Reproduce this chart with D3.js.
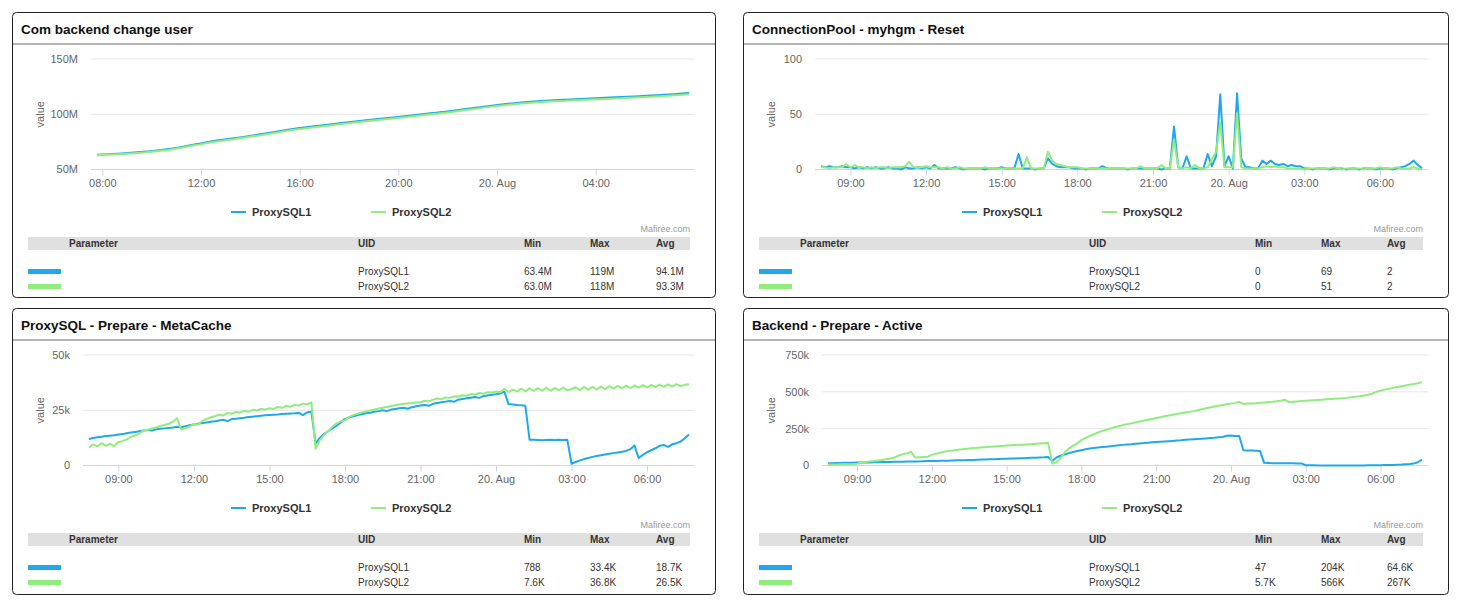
<!DOCTYPE html>
<html>
<head>
<meta charset="utf-8">
<script src="https://cdn.jsdelivr.net/npm/d3@7"></script>
<style>
  body { margin: 0; background: #fff; }
  text { font-family: "Liberation Sans", Arial, sans-serif; }
</style>
</head>
<body>
<div id="vis"></div>
<script>
// Setting up frame constants
const FRAME_WIDTH = 1462;
const FRAME_HEIGHT = 601;

const SERIES_NAMES = ["ProxySQL1", "ProxySQL2"];
const SERIES_COLORS = ["#1fa8ee", "#90ed7d"];
const TABLE_HEADERS = ["Parameter", "UID", "Min", "Max", "Avg"];

// x axis ticks
const X_TICKS_4H = ["2019-08-19T08:00", "2019-08-19T12:00", "2019-08-19T16:00",
                    "2019-08-19T20:00", "2019-08-20T00:00", "2019-08-20T04:00"];
const X_LABELS_4H = ["08:00", "12:00", "16:00", "20:00", "20. Aug", "04:00"];
const X_TICKS_3H = ["2019-08-19T09:00", "2019-08-19T12:00", "2019-08-19T15:00",
                    "2019-08-19T18:00", "2019-08-19T21:00", "2019-08-20T00:00",
                    "2019-08-20T03:00", "2019-08-20T06:00"];
const X_LABELS_3H = ["09:00", "12:00", "15:00", "18:00", "21:00", "20. Aug", "03:00", "06:00"];

// Com backend change user (millions), one point per hour from 07:47
const P1_START = "2019-08-19T07:47";
const P1_STEP_MIN = 60;
const P1_PROXY1 = [63.4, 64.5, 66.3, 68.8, 72.8, 76.6, 79.7, 83.2, 86.8, 89.6, 92.3, 94.8,
                   97.0, 99.6, 102.0, 104.9, 107.8, 110.2, 111.9, 113.2, 114.3, 115.3, 116.4,
                   117.6, 119.3];
const P1_PROXY2 = [63.0, 64.0, 65.7, 68.2, 72.1, 75.8, 78.9, 82.4, 85.9, 88.7, 91.4, 93.9,
                   96.1, 98.7, 101.1, 104.0, 106.9, 109.3, 111.0, 112.2, 113.3, 114.3, 115.4,
                   116.6, 118.2];
const P1_Y_TICKS = [50, 100, 150];
const P1_Y_LABELS = ["50M", "100M", "150M"];
const P1_STATS = [["63.4M", "119M", "94.1M"], ["63.0M", "118M", "93.3M"]];

// the other three charts: one point every 10 minutes from 07:50
const P_START = "2019-08-19T07:50";
const P_STEP_MIN = 10;

// ConnectionPool - myhgm - Reset
const P2_PROXY1 = [
  3, 2, 3, 2, 2, 3,   2, 2, 1, 2, 1, 2,   1, 2, 1, 1, 2, 1,   1, 0, 2, 1, 1, 2,
  1, 2, 1, 4, 1, 1,   1, 1, 2, 1, 0, 1,   1, 1, 1, 0, 1, 1,   1, 2, 1, 1, 1, 14,
  1, 1, 1, 0, 1, 1,   10, 5, 3, 2, 2, 2,  1, 1, 1, 0, 1, 1,   1, 3, 1, 1, 1, 1,
  1, 0, 1, 1, 1, 1,   1, 1, 1, 0, 1, 1,   39, 2, 1, 12, 1, 1, 1, 1, 14, 3, 12, 68,
  3, 12, 1, 69, 10, 2, 2, 1, 1, 8, 5, 8, 5, 4, 5, 3, 4, 3,   3, 1, 1, 0, 1, 1,
  1, 0, 1, 1, 1, 0,   1, 1, 0, 1, 1, 1,   0, 1, 1, 1, 0, 1,   2, 3, 5, 8, 4, 1];
const P2_PROXY2 = [
  2, 2, 1, 2, 2, 2,   5, 2, 4, 2, 2, 1,   2, 1, 2, 2, 1, 2,   2, 2, 3, 7, 2, 2,
  2, 3, 2, 2, 2, 1,   2, 1, 1, 2, 1, 1,   1, 1, 1, 2, 1, 1,   1, 1, 1, 1, 1, 1,
  1, 11, 1, 1, 1, 1,  16, 8, 5, 4, 3, 2,  2, 2, 1, 1, 1, 1,   1, 1, 1, 1, 1, 1,
  1, 1, 1, 1, 3, 1,   1, 1, 1, 4, 1, 1,   27, 2, 1, 2, 1, 4,  1, 1, 2, 9, 16, 43,
  2, 2, 2, 51, 2, 1,  1, 1, 1, 2, 3, 2,   3, 2, 2, 1, 1, 1,   1, 0, 1, 1, 1, 1,
  1, 1, 2, 1, 0, 1,   1, 1, 1, 0, 1, 1,   1, 2, 1, 1, 1, 2,   1, 1, 1, 2, 1, 0];
const P2_Y_TICKS = [0, 50, 100];
const P2_Y_LABELS = ["0", "50", "100"];
const P2_STATS = [["0", "69", "2"], ["0", "51", "2"]];

// ProxySQL - Prepare - MetaCache (thousands)
const P3_PROXY1 = [
  12.0, 12.4, 12.8, 13.0, 13.3, 13.5,  13.7, 14.0, 14.2, 14.6, 14.9, 15.2,
  15.5, 15.8, 16.1, 15.8, 16.4, 16.6,  16.8, 17.0, 17.2, 17.5, 17.3, 17.8,
  18.2, 18.6, 18.9, 19.2, 19.5, 19.8,  20.0, 20.4, 20.7, 20.1, 21.0, 21.2,
  21.4, 21.6, 21.9, 22.1, 22.3, 22.5,  22.7, 22.9, 23.0, 23.1, 23.3, 23.4,
  23.5, 23.6, 23.8, 22.8, 24.0, 24.4,  9.9, 12.5, 14.2, 15.5, 16.8, 18.0,
  19.5, 21.0, 21.8, 22.3, 22.8, 23.2,  23.6, 23.9, 24.3, 24.6, 25.0, 24.6,
  25.3, 25.6, 25.9, 26.1, 25.7, 26.4,  26.8, 27.1, 27.4, 27.0, 27.9, 28.3,
  28.6, 28.9, 29.2, 28.8, 29.8, 30.1,  30.4, 30.7, 31.0, 30.6, 31.4, 31.7,
  32.0, 32.2, 32.6, 33.4, 27.8, 27.6,  27.4, 27.3, 27.0, 11.7, 11.6, 11.5,
  11.4, 11.5, 11.6, 11.5, 11.6, 11.5,  11.6, 0.8, 1.6, 2.3, 2.9, 3.4,
  3.9, 4.3, 4.6, 5.0, 5.3, 5.6,        5.9, 6.2, 6.6, 7.4, 9.1, 3.4,
  4.8, 6.0, 6.9, 7.8, 8.9, 9.3,        8.4, 9.6, 10.1, 10.8, 12.3, 14.0];
const P3_PROXY2 = [
  8.1, 9.6, 8.7, 10.1, 8.9, 9.8,       8.8, 10.6, 11.0, 11.8, 12.9, 13.6,
  14.5, 15.9, 16.2, 16.8, 17.2, 17.9,  18.3, 18.9, 19.8, 21.4, 16.2, 17.0,
  17.6, 18.9, 18.4, 20.2, 21.0, 21.8,  22.3, 23.0, 22.6, 23.8, 23.4, 24.2,
  24.0, 24.8, 24.3, 25.2, 24.9, 25.6,  25.3, 25.9, 25.6, 26.5, 26.1, 27.0,
  26.6, 27.4, 27.1, 28.0, 27.7, 28.6,  7.6, 11.4, 13.8, 15.5, 17.5, 19.0,
  20.0, 20.4, 22.0, 22.8, 23.4, 24.0,  24.4, 24.9, 25.3, 25.8, 26.1, 26.5,
  26.9, 27.3, 27.6, 27.9, 28.1, 28.3,  28.5, 28.6, 29.3, 29.0, 29.8, 30.3,
  30.0, 30.8, 30.6, 31.3, 31.1, 31.8,  31.6, 32.3, 32.1, 32.8, 32.5, 33.2,
  33.0, 33.5, 33.1, 34.6, 33.2, 34.3,  33.4, 34.8, 33.6, 34.9, 33.8, 35.0,
  33.9, 35.2, 33.8, 35.1, 34.0, 35.3,  34.0, 34.6, 35.4, 34.1, 35.5, 34.3,
  35.6, 34.4, 35.7, 34.6, 35.9, 34.8,  36.0, 34.9, 36.1, 35.0, 36.2, 35.2,
  36.4, 35.3, 36.5, 35.5, 36.6, 35.6,  36.7, 35.7, 36.8, 35.9, 36.5, 36.8];
const P3_Y_TICKS = [0, 25, 50];
const P3_Y_LABELS = ["0", "25k", "50k"];
const P3_STATS = [["788", "33.4K", "18.7K"], ["7.6K", "36.8K", "26.5K"]];

// Backend - Prepare - Active (thousands)
const P4_PROXY1 = [
  15, 16, 17, 17, 18, 19,        19, 20, 20, 21, 21, 22,
  22, 23, 24, 24, 25, 26,        26, 27, 27, 28, 28, 29,
  30, 31, 31, 32, 33, 33,        34, 35, 35, 36, 37, 38,
  39, 40, 41, 42, 43, 44,        45, 46, 47, 48, 49, 50,
  51, 52, 53, 55, 56, 58,        31, 54, 66, 75, 84, 91,
  98, 104, 110, 115, 119, 122,   125, 128, 131, 134, 137, 140,
  143, 145, 148, 150, 152, 155,  157, 159, 161, 163, 165, 167,
  169, 171, 174, 176, 178, 180,  182, 184, 186, 188, 191, 193,
  202, 204, 200, 200, 103, 102,  101, 100, 99, 18, 17, 16,
  16, 16, 15, 15, 15, 14,        14, 2, 1, 1, 0.5, 0.5,
  0.3, 0.2, 0.1, 0.05, 0.047, 0.1, 0.2, 0.3, 0.5, 0.8, 1, 1.5,
  2, 2.5, 3, 3.5, 4, 5,          6, 8, 10, 13, 22, 40];
const P4_PROXY2 = [
  6, 7, 7, 8, 8, 9,              9, 12, 18, 23, 27, 30,
  34, 38, 43, 48, 54, 68,        76, 83, 92, 54, 56, 58,
  60, 72, 80, 87, 93, 98,        102, 106, 109, 112, 115, 118,
  121, 123, 125, 127, 129, 131,  133, 135, 137, 139, 140, 141,
  143, 145, 147, 149, 151, 152,  13, 22, 50, 90, 115, 135,
  150, 172, 188, 200, 212, 224,  234, 243, 252, 260, 267, 274,
  280, 286, 292, 298, 304, 310,  316, 322, 328, 334, 339, 344,
  349, 354, 359, 364, 369, 375,  382, 388, 394, 400, 405, 410,
  415, 420, 425, 432, 418, 420,  421, 423, 426, 428, 431, 433,
  436, 440, 446, 431, 433, 435,  437, 439, 441, 443, 445, 447,
  449, 451, 453, 455, 457, 459,  463, 466, 470, 475, 480, 488,
  500, 508, 515, 521, 527, 533,  538, 543, 548, 553, 558, 566];
const P4_Y_TICKS = [0, 250, 500, 750];
const P4_Y_LABELS = ["0", "250k", "500k", "750k"];
const P4_STATS = [["47", "204K", "64.6K"], ["5.7K", "566K", "267K"]];

// Layout inside a panel
const PLOT_TOP = 47;
const PLOT_BOTTOM = 157.5;
const COL_X = [57, 346, 512, 578, 644];

const PARSE = d3.timeParse("%Y-%m-%dT%H:%M");

function make_times(start, step, n) {
  const T0 = PARSE(start);
  return d3.range(n).map(i => d3.timeMinute.offset(T0, i * step));
}

const PANELS = [
  {x: 12, y: 12, w: 703, h: 285, left: 79, title: "Com backend change user",
   times: make_times(P1_START, P1_STEP_MIN, P1_PROXY1.length), series: [P1_PROXY1, P1_PROXY2],
   yTicks: P1_Y_TICKS, yLabels: P1_Y_LABELS, xTicks: X_TICKS_4H, xLabels: X_LABELS_4H,
   stats: P1_STATS, smooth: true},
  {x: 743, y: 12, w: 705, h: 285, left: 72, title: "ConnectionPool - myhgm - Reset",
   times: make_times(P_START, P_STEP_MIN, P2_PROXY1.length), series: [P2_PROXY1, P2_PROXY2],
   yTicks: P2_Y_TICKS, yLabels: P2_Y_LABELS, xTicks: X_TICKS_3H, xLabels: X_LABELS_3H,
   stats: P2_STATS},
  {x: 12, y: 308, w: 703, h: 286, left: 71, title: "ProxySQL - Prepare - MetaCache",
   times: make_times(P_START, P_STEP_MIN, P3_PROXY1.length), series: [P3_PROXY1, P3_PROXY2],
   yTicks: P3_Y_TICKS, yLabels: P3_Y_LABELS, xTicks: X_TICKS_3H, xLabels: X_LABELS_3H,
   stats: P3_STATS},
  {x: 743, y: 308, w: 705, h: 286, left: 79, title: "Backend - Prepare - Active",
   times: make_times(P_START, P_STEP_MIN, P4_PROXY1.length), series: [P4_PROXY1, P4_PROXY2],
   yTicks: P4_Y_TICKS, yLabels: P4_Y_LABELS, xTicks: X_TICKS_3H, xLabels: X_LABELS_3H,
   stats: P4_STATS}
];

const FRAME = d3.select("#vis")
                .append("svg")
                  .attr("width", FRAME_WIDTH)
                  .attr("height", FRAME_HEIGHT);

function build_panel(p) {
  const G = FRAME.append("g").attr("transform", "translate(" + p.x + "," + p.y + ")");
  const PLOT_RIGHT = p.w - 20;

  // frame + header
  G.append("rect")
      .attr("x", 0.5).attr("y", 0.5)
      .attr("width", p.w).attr("height", p.h)
      .attr("rx", 4)
      .attr("fill", "#fff")
      .attr("stroke", "#222");
  G.append("line")
      .attr("x1", 1).attr("x2", p.w)
      .attr("y1", 32).attr("y2", 32)
      .attr("stroke", "#b4b4b4")
      .attr("stroke-width", 2);
  G.append("text")
      .attr("x", 9).attr("y", 22)
      .attr("font-size", "13.5px")
      .attr("font-weight", "bold")
      .attr("fill", "#111")
      .text(p.title);

  const X_SCALE = d3.scaleTime()
                    .domain(d3.extent(p.times))
                    .range([p.left + 6, PLOT_RIGHT - 6]);
  const Y_SCALE = d3.scaleLinear()
                    .domain(d3.extent(p.yTicks))
                    .range([PLOT_BOTTOM, PLOT_TOP]);

  // grid lines and y labels
  G.selectAll(".grid")
      .data(p.yTicks)
      .enter().append("line")
        .attr("x1", p.left).attr("x2", PLOT_RIGHT)
        .attr("y1", d => Y_SCALE(d)).attr("y2", d => Y_SCALE(d))
        .attr("stroke", "#e6e6e6");
  G.selectAll(".ylab")
      .data(p.yTicks)
      .enter().append("text")
        .attr("x", p.left - 13)
        .attr("y", d => Y_SCALE(d))
        .attr("dy", "0.35em")
        .attr("text-anchor", "end")
        .attr("font-size", "11px")
        .attr("fill", "#666")
        .text((d, i) => p.yLabels[i]);
  G.append("text")
      .attr("transform", "translate(32," + ((PLOT_TOP + PLOT_BOTTOM) / 2) + ") rotate(-90)")
      .attr("text-anchor", "middle")
      .attr("font-size", "11px")
      .attr("fill", "#666")
      .text("value");

  // x axis
  const X_AXIS = G.append("g")
      .attr("transform", "translate(0," + PLOT_BOTTOM + ")")
      .call(d3.axisBottom(X_SCALE)
              .tickValues(p.xTicks.map(PARSE))
              .tickFormat((d, i) => p.xLabels[i])
              .tickSize(6)
              .tickPadding(4));
  X_AXIS.select(".domain").remove();
  X_AXIS.selectAll("line").attr("stroke", "#ccd6eb");
  X_AXIS.selectAll("text")
      .attr("font-family", "Liberation Sans, Arial, sans-serif")
      .attr("font-size", "11px")
      .attr("fill", "#666");
  G.append("line")
      .attr("x1", p.left).attr("x2", PLOT_RIGHT)
      .attr("y1", PLOT_BOTTOM).attr("y2", PLOT_BOTTOM)
      .attr("stroke", "#ccd6eb");

  // lines
  const LINE = d3.line()
                 .x((d, i) => X_SCALE(p.times[i]))
                 .y(d => Y_SCALE(d))
                 .curve(p.smooth ? d3.curveMonotoneX : d3.curveLinear);
  p.series.forEach((s, k) => {
    G.append("path")
        .attr("d", LINE(s))
        .attr("fill", "none")
        .attr("stroke", SERIES_COLORS[k])
        .attr("stroke-width", 2)
        .attr("stroke-linejoin", "round");
  });

  // legend
  SERIES_NAMES.forEach((name, k) => {
    const LX = 219 + k * 140;
    G.append("line")
        .attr("x1", LX).attr("x2", LX + 15)
        .attr("y1", 200).attr("y2", 200)
        .attr("stroke", SERIES_COLORS[k])
        .attr("stroke-width", 2);
    G.append("text")
        .attr("x", LX + 21).attr("y", 204)
        .attr("font-size", "11px")
        .attr("font-weight", "bold")
        .attr("fill", "#333")
        .text(name);
  });

  G.append("text")
      .attr("x", PLOT_RIGHT - 5).attr("y", 220)
      .attr("text-anchor", "end")
      .attr("font-size", "9px")
      .attr("fill", "#999")
      .text("Mafiree.com");

  // stats table
  G.append("rect")
      .attr("x", 16).attr("y", 225)
      .attr("width", PLOT_RIGHT - 5 - 16).attr("height", 13)
      .attr("fill", "#e0e0e0");
  G.selectAll(".thead")
      .data(TABLE_HEADERS)
      .enter().append("text")
        .attr("x", (d, i) => COL_X[i])
        .attr("y", 235)
        .attr("font-size", "10px")
        .attr("font-weight", "bold")
        .attr("fill", "#333")
        .text(d => d);
  p.stats.forEach((row, k) => {
    const RY = 262.5 + k * 15;
    G.append("rect")
        .attr("x", 16).attr("y", RY - 5.5)
        .attr("width", 33).attr("height", 5)
        .attr("fill", SERIES_COLORS[k]);
    [SERIES_NAMES[k]].concat(row).forEach((t, j) => {
      G.append("text")
          .attr("x", COL_X[j + 1]).attr("y", RY)
          .attr("font-size", "10px")
          .attr("fill", "#333")
          .text(t);
    });
  });
}

PANELS.forEach(build_panel);
</script>
</body>
</html>
